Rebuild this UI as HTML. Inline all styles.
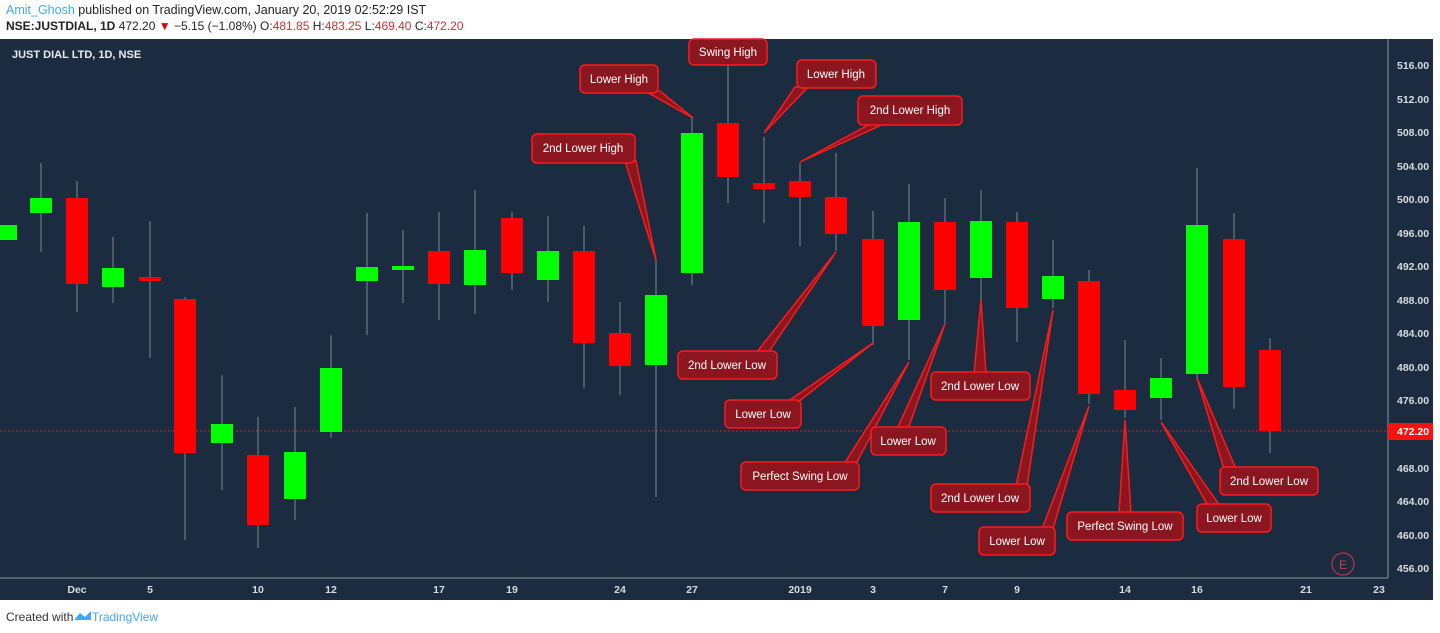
<!DOCTYPE html>
<html><head><meta charset="utf-8"><style>
body{margin:0;width:1440px;height:633px;background:#fff;overflow:hidden;font-family:"Liberation Sans",sans-serif}
.h{position:absolute;left:6px;font-size:12.5px;color:#222}
</style></head><body>
<div class="h" style="top:3px"><span style="color:#3fa9f5">Amit_Ghosh</span> published on TradingView.com, January 20, 2019 02:52:29 IST</div>
<div class="h" style="top:19px;font-size:12px"><b>NSE:JUSTDIAL, 1D</b> 472.20 <span style="color:#d00">▼</span> −5.15 (−1.08%) O:<span style="color:#d03030">481.85</span> H:<span style="color:#d03030">483.25</span> L:<span style="color:#d03030">469.40</span> C:<span style="color:#d03030">472.20</span></div>
<svg style="position:absolute;left:0;top:0" width="1440" height="633" font-family="Liberation Sans, sans-serif">
<rect x="0" y="39" width="1433" height="561" fill="#1b2c40"/>
<line x1="1388" y1="39" x2="1388" y2="578" stroke="#8a94a0"/>
<line x1="0" y1="578" x2="1388" y2="578" stroke="#8a94a0"/>
<text x="12" y="58" fill="#e8ecf0" font-size="11" font-weight="bold">JUST DIAL LTD, 1D, NSE</text>
<line x1="0" y1="431" x2="1388" y2="431" stroke="#d02020" stroke-dasharray="2,2"/>
<g fill="#d8dce0" font-size="10.5" font-weight="bold">
<text x="1397" y="69">516.00</text><text x="1397" y="103">512.00</text><text x="1397" y="136">508.00</text><text x="1397" y="170">504.00</text><text x="1397" y="203">500.00</text><text x="1397" y="237">496.00</text><text x="1397" y="270">492.00</text><text x="1397" y="304">488.00</text><text x="1397" y="337">484.00</text><text x="1397" y="371">480.00</text><text x="1397" y="404">476.00</text><text x="1397" y="472">468.00</text><text x="1397" y="505">464.00</text><text x="1397" y="539">460.00</text><text x="1397" y="572">456.00</text>
</g>
<rect x="1388" y="423" width="45" height="17" fill="#ff1010"/>
<text x="1397" y="435" fill="#fff" font-size="10.5" font-weight="bold">472.20</text>
<g fill="#d8dce0" font-size="10.5" font-weight="bold" text-anchor="middle">
<text x="77" y="593">Dec</text><text x="150" y="593">5</text><text x="258" y="593">10</text><text x="331" y="593">12</text><text x="439" y="593">17</text><text x="512" y="593">19</text><text x="620" y="593">24</text><text x="692" y="593">27</text><text x="800" y="593">2019</text><text x="873" y="593">3</text><text x="945" y="593">7</text><text x="1017" y="593">9</text><text x="1125" y="593">14</text><text x="1197" y="593">16</text><text x="1306" y="593">21</text><text x="1379" y="593">23</text>
</g>
<g stroke="#6d7784" stroke-width="1.2">
<line x1="41" y1="163" x2="41" y2="252"/><line x1="77" y1="181" x2="77" y2="312"/><line x1="113" y1="237" x2="113" y2="303"/><line x1="150" y1="221" x2="150" y2="358"/><line x1="185" y1="297" x2="185" y2="540"/><line x1="222" y1="375" x2="222" y2="490"/><line x1="258" y1="417" x2="258" y2="548"/><line x1="295" y1="407" x2="295" y2="520"/><line x1="331" y1="335" x2="331" y2="438"/><line x1="367" y1="213" x2="367" y2="335"/><line x1="403" y1="230" x2="403" y2="303"/><line x1="439" y1="212" x2="439" y2="320"/><line x1="475" y1="190" x2="475" y2="314"/><line x1="512" y1="212" x2="512" y2="290"/><line x1="548" y1="216" x2="548" y2="302"/><line x1="584" y1="226" x2="584" y2="388"/><line x1="620" y1="302" x2="620" y2="395"/><line x1="656" y1="258" x2="656" y2="497"/><line x1="692" y1="116" x2="692" y2="285"/><line x1="728" y1="66" x2="728" y2="203"/><line x1="764" y1="137" x2="764" y2="223"/><line x1="800" y1="163" x2="800" y2="246"/><line x1="836" y1="153" x2="836" y2="251"/><line x1="873" y1="211" x2="873" y2="345"/><line x1="909" y1="184" x2="909" y2="360"/><line x1="945" y1="198" x2="945" y2="325"/><line x1="981" y1="190" x2="981" y2="300"/><line x1="1017" y1="212" x2="1017" y2="342"/><line x1="1053" y1="240" x2="1053" y2="308"/><line x1="1089" y1="270" x2="1089" y2="404"/><line x1="1125" y1="340" x2="1125" y2="418"/><line x1="1161" y1="358" x2="1161" y2="420"/><line x1="1197" y1="168" x2="1197" y2="380"/><line x1="1234" y1="213" x2="1234" y2="409"/><line x1="1270" y1="338" x2="1270" y2="453"/>
</g>
<g fill="#00ff00">
<rect x="0" y="225" width="17" height="15"/><rect x="30" y="198" width="22" height="15"/><rect x="102" y="268" width="22" height="19"/><rect x="211" y="424" width="22" height="19"/><rect x="284" y="452" width="22" height="47"/><rect x="320" y="368" width="22" height="64"/><rect x="356" y="267" width="22" height="14"/><rect x="392" y="266" width="22" height="4"/><rect x="464" y="250" width="22" height="35"/><rect x="537" y="251" width="22" height="29"/><rect x="645" y="295" width="22" height="70"/><rect x="681" y="133" width="22" height="140"/><rect x="898" y="222" width="22" height="98"/><rect x="970" y="221" width="22" height="57"/><rect x="1042" y="276" width="22" height="23"/><rect x="1150" y="378" width="22" height="20"/><rect x="1186" y="225" width="22" height="149"/>
</g>
<g fill="#ff0000">
<rect x="66" y="198" width="22" height="86"/><rect x="139" y="277" width="22" height="4"/><rect x="174" y="299" width="22" height="154"/><rect x="247" y="455" width="22" height="70"/><rect x="428" y="251" width="22" height="33"/><rect x="501" y="218" width="22" height="55"/><rect x="573" y="251" width="22" height="92"/><rect x="609" y="333" width="22" height="33"/><rect x="717" y="123" width="22" height="54"/><rect x="753" y="183" width="22" height="6"/><rect x="789" y="181" width="22" height="16"/><rect x="825" y="197" width="22" height="37"/><rect x="862" y="239" width="22" height="87"/><rect x="934" y="222" width="22" height="68"/><rect x="1006" y="222" width="22" height="86"/><rect x="1078" y="281" width="22" height="113"/><rect x="1114" y="390" width="22" height="20"/><rect x="1223" y="239" width="22" height="148"/><rect x="1259" y="350" width="22" height="81"/>
</g>
<g fill="#8b1620" stroke="#ff1a1a" stroke-width="1.5">
<polygon points="645,91 660,91 693,118"/>
<polygon points="795,87 808,87 764,133"/>
<polygon points="872,123 886,123 800,162"/>
<polygon points="625,161 636,161 656,260"/>
<polygon points="756,353 768,353 836,252"/>
<polygon points="787,402 798,402 873,343"/>
<polygon points="844,464 856,464 909,362"/>
<polygon points="897,429 908,429 945,324"/>
<polygon points="974,374 986,374 981,300"/>
<polygon points="1016,486 1027,486 1053,310"/>
<polygon points="1042,529 1053,529 1089,406"/>
<polygon points="1119,514 1131,514 1125,420"/>
<polygon points="1208,506 1220,506 1161,422"/>
<polygon points="1224,469 1236,469 1197,378"/>
<rect x="689" y="39" width="78" height="26" rx="5"/>
<rect x="580" y="65" width="78" height="28" rx="5"/>
<rect x="797" y="60" width="79" height="28" rx="5"/>
<rect x="858" y="96" width="104" height="29" rx="5"/>
<rect x="532" y="134" width="103" height="29" rx="5"/>
<rect x="678" y="351" width="99" height="28" rx="5"/>
<rect x="725" y="400" width="76" height="28" rx="5"/>
<rect x="741" y="462" width="118" height="28" rx="5"/>
<rect x="871" y="427" width="75" height="28" rx="5"/>
<rect x="931" y="372" width="99" height="28" rx="5"/>
<rect x="931" y="484" width="99" height="28" rx="5"/>
<rect x="979" y="527" width="76" height="28" rx="5"/>
<rect x="1067" y="512" width="116" height="28" rx="5"/>
<rect x="1197" y="504" width="74" height="28" rx="5"/>
<rect x="1220" y="467" width="98" height="28" rx="5"/>
</g>
<g fill="#fff" font-size="11.5" text-anchor="middle">
<text x="728" y="56">Swing High</text>
<text x="619" y="83">Lower High</text>
<text x="836" y="78">Lower High</text>
<text x="910" y="114">2nd Lower High</text>
<text x="583" y="152">2nd Lower High</text>
<text x="727" y="369">2nd Lower Low</text>
<text x="763" y="418">Lower Low</text>
<text x="800" y="480">Perfect Swing Low</text>
<text x="908" y="445">Lower Low</text>
<text x="980" y="390">2nd Lower Low</text>
<text x="980" y="502">2nd Lower Low</text>
<text x="1017" y="545">Lower Low</text>
<text x="1125" y="530">Perfect Swing Low</text>
<text x="1234" y="522">Lower Low</text>
<text x="1269" y="485">2nd Lower Low</text>
</g>
<circle cx="1343" cy="564" r="11" fill="none" stroke="#b03848" stroke-width="1.2"/>
<text x="1343" y="569" fill="#c04050" font-size="12" text-anchor="middle">E</text>
<text x="6" y="621" fill="#333" font-size="12">Created with</text>
<path d="M74 620 l6 -7 l5 4 l6 -6 l0 9 z" fill="#3fa9f5"/>
<text x="92" y="621" fill="#3fa9f5" font-size="12">TradingView</text>
</svg>
</body></html>
